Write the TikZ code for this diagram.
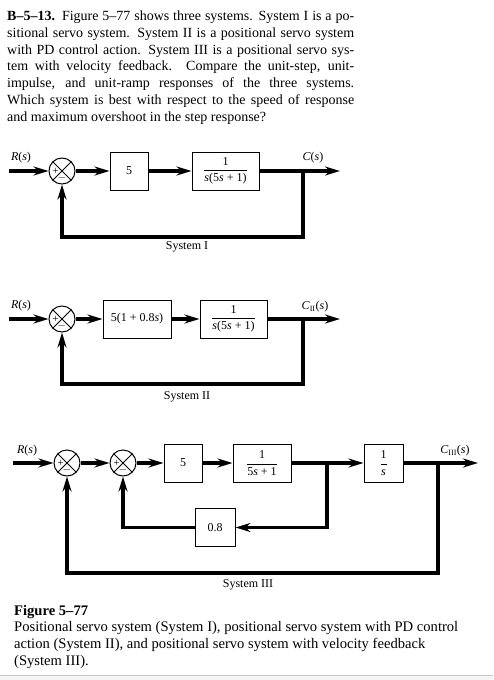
\documentclass[tikz,border=0pt]{standalone}
\usepackage{fontspec}
\setmainfont{Liberation Serif}
\usetikzlibrary{arrows.meta}
\tikzset{
  blk/.style={draw, line width=1pt, minimum height=38pt, inner sep=2pt},
  sum/.style={draw, circle, line width=1pt, minimum size=26pt, inner sep=0pt,
    path picture={
      \draw[line width=1pt] (path picture bounding box.north west) -- (path picture bounding box.south east);
      \draw[line width=1pt] (path picture bounding box.north east) -- (path picture bounding box.south west);
      \node[font=\fontsize{11}{11}\selectfont, inner sep=0pt] at ([xshift=-6.5pt]path picture bounding box.center) {+};
      \node[font=\fontsize{11}{11}\selectfont, inner sep=0pt] at ([yshift=-7pt]path picture bounding box.center) {$-$};
    }},
  sig/.style={line width=3.6pt, line join=miter, -{Stealth[length=15pt, width=9pt, inset=5pt]}},
  txt/.style={inner sep=0pt, font=\fontsize{14}{16.7}\selectfont, align=left}
}
\newcommand{\sv}{\textit{s}}
\begin{document}
\begin{tikzpicture}[x=1pt, y=-1pt, font=\fontsize{12}{14}\selectfont]
\useasboundingbox (0,0) rectangle (493,680);
\fill[gray!8] (0,675) rectangle (493,680);
\draw[gray!45, line width=0.8pt] (0,675) -- (493,675);
% problem text
\node[txt, anchor=north west] (prob) at (7,10.9) {%
\makebox[347pt][s]{\textbf{B–5–13.}\enspace Figure 5–77 shows three systems. System I is a po-}\\
\makebox[347pt][s]{sitional servo system. System II is a positional servo system}\\
\makebox[347pt][s]{with PD control action. System III is a positional servo sys-}\\
\makebox[347pt][s]{tem with velocity feedback. Compare the unit-step, unit-}\\
\makebox[347pt][s]{impulse, and unit-ramp responses of the three systems.}\\
\makebox[347pt][s]{Which system is best with respect to the speed of response}\\
and maximum overshoot in the step response?};
% System I
\node (r1) at (21,158) {\textit{R}(\sv)};
\node (c1) at (313,158) {\textit{C}(\sv)};
\coordinate (in1) at (9,171);
\node[sum] (s1) at (62,171) {};
\node[blk, minimum width=38pt] (k1) at (129,171) {5};
\node[blk, minimum width=67pt] (g1) at (225.5,171) {$\displaystyle\frac{\mbox{1}}{\mbox{\sv(5\sv\ + 1)}}$};
\coordinate (b1) at (303,171);
\coordinate (f1) at (303,237);
\coordinate (o1) at (340,171);
\path[draw,sig] (in1) -- (s1);
\path[draw,sig] (s1) -- (k1);
\path[draw,sig] (k1) -- (g1);
\path[draw,sig] (g1) -- (o1);
\path[draw,sig] (b1) -- (f1) -| (s1);
\node (n1) at (187,247) {System I};
% System II
\node (r2) at (21,306) {\textit{R}(\sv)};
\node (c2) at (315,307) {\textit{C}\textsubscript{II}(\sv)};
\coordinate (in2) at (9,319);
\node[sum] (s2) at (62,319) {};
\node[blk, minimum width=68pt] (k2) at (137,319) {5(1 + 0.8\sv)};
\node[blk, minimum width=67pt] (g2) at (233.5,319) {$\displaystyle\frac{\mbox{1}}{\mbox{\sv(5\sv\ + 1)}}$};
\coordinate (b2) at (303,319);
\coordinate (f2) at (303,384);
\coordinate (o2) at (340,319);
\path[draw,sig] (in2) -- (s2);
\path[draw,sig] (s2) -- (k2);
\path[draw,sig] (k2) -- (g2);
\path[draw,sig] (g2) -- (o2);
\path[draw,sig] (b2) -- (f2) -| (s2);
\node (n2) at (187,397) {System II};
% System III
\node (r3) at (27,451) {\textit{R}(\sv)};
\node (c3) at (455,451) {\textit{C}\textsubscript{III}(\sv)};
\coordinate (in3) at (13,463);
\node[sum] (s3) at (67,463) {};
\node[sum] (s4) at (123,463) {};
\node[blk, minimum width=38pt] (k3) at (183,463) {5};
\node[blk, minimum width=58pt] (g3) at (262,463) {$\displaystyle\frac{\mbox{1}}{\mbox{5\sv\ + 1}}$};
\node[blk, minimum width=39pt] (i3) at (383.5,463) {$\displaystyle\frac{\mbox{1}}{\mbox{\sv}}$};
\node[blk, minimum width=40pt] (h3) at (215,527.5) {0.8};
\coordinate (b3) at (327,463);
\coordinate (d3) at (438,463);
\coordinate (f3) at (438,573);
\coordinate (o3) at (478,463);
\path[draw,sig] (in3) -- (s3);
\path[draw,sig] (s3) -- (s4);
\path[draw,sig] (s4) -- (k3);
\path[draw,sig] (k3) -- (g3);
\path[draw,sig] (g3) -- (i3);
\path[draw,sig] (i3) -- (o3);
\path[draw,sig] (b3) |- (h3);
\path[draw,sig] (h3) -| (s4);
\path[draw,sig] (d3) -- (f3) -| (s3);
\node (n3) at (248,585) {System III};
% caption
\node[txt, anchor=north west, font=\fontsize{14.6}{16.6}\selectfont] (cap) at (14,605) {%
\textbf{Figure 5–77}\\
Positional servo system (System I), positional servo system with PD control\\
action (System II), and positional servo system with velocity feedback\\
(System III).};
\end{tikzpicture}
\end{document}
